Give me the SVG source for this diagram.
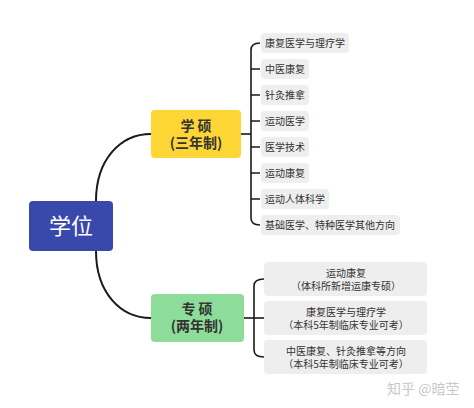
<svg xmlns="http://www.w3.org/2000/svg" width="474" height="408" viewBox="0 0 474 408">
<style>
text{font-family:"Noto Sans CJK SC","Noto Sans",sans-serif;}
.leaf{fill:#eeeeee;}
.lt{font-size:10px;fill:#333;}
.ct{font-size:10px;fill:#333;text-anchor:middle;}
.mid{font-size:14px;font-weight:bold;fill:#333;text-anchor:middle;}
.line{fill:none;stroke:#1a1a1a;stroke-width:2;}
.br{fill:none;stroke:#1a1a1a;stroke-width:1.6;}
</style>
<rect width="474" height="408" fill="#ffffff"/>
<g id="connectors">
<path class="line" d="M96,201 C96,160 120,134 151,134"/>
<path class="line" d="M96,251 C96,292 120,318 151,318"/>
<path class="br" d="M241,134 H251"/>
<path class="br" d="M260,43 Q251,43 251,50 V218 Q251,225 260,225"/>
<path class="br" d="M251,69 H260 M251,95 H260 M251,121 H260 M251,147 H260 M251,173 H260 M251,199 H260"/>
<path class="br" d="M244,318 H264"/>
<path class="br" d="M264,279 Q254,279 254,286 V350 Q254,357 264,357"/>
</g>
<g id="root">
<rect x="29" y="201" width="84" height="50" rx="4" fill="#3949ab"/>
<text x="71" y="234" font-size="22" fill="#ffffff" text-anchor="middle">学位</text>
</g>
<g id="xueshuo">
<rect x="151" y="110" width="90" height="48" rx="4" fill="#fdd535"/>
<text class="mid" x="196" y="131">学 硕</text>
<text class="mid" x="196" y="148">(三年制)</text>
</g>
<g id="zhuanshuo">
<rect x="151" y="294" width="93" height="48" rx="4" fill="#8edc99"/>
<text class="mid" x="197" y="314">专 硕</text>
<text class="mid" x="197" y="331">(两年制)</text>
</g>
<g id="leaf1"><rect class="leaf" x="261" y="33" width="88" height="20" rx="4"/><text class="lt" x="265" y="47">康复医学与理疗学</text></g>
<g id="leaf2"><rect class="leaf" x="261" y="59" width="48" height="20" rx="4"/><text class="lt" x="265" y="73">中医康复</text></g>
<g id="leaf3"><rect class="leaf" x="261" y="85" width="48" height="20" rx="4"/><text class="lt" x="265" y="99">针灸推拿</text></g>
<g id="leaf4"><rect class="leaf" x="261" y="111" width="48" height="20" rx="4"/><text class="lt" x="265" y="125">运动医学</text></g>
<g id="leaf5"><rect class="leaf" x="261" y="137" width="48" height="20" rx="4"/><text class="lt" x="265" y="151">医学技术</text></g>
<g id="leaf6"><rect class="leaf" x="261" y="163" width="48" height="20" rx="4"/><text class="lt" x="265" y="177">运动康复</text></g>
<g id="leaf7"><rect class="leaf" x="261" y="189" width="68" height="20" rx="4"/><text class="lt" x="265" y="203">运动人体科学</text></g>
<g id="leaf8"><rect class="leaf" x="261" y="215" width="139" height="20" rx="4"/><text class="lt" x="265" y="229">基础医学、特种医学其他方向</text></g>
<g id="pro1"><rect class="leaf" x="264" y="262" width="163" height="34" rx="4"/><text class="ct" x="346" y="277">运动康复</text><text class="ct" x="346" y="290">（体科所新增运康专硕）</text></g>
<g id="pro2"><rect class="leaf" x="264" y="301" width="163" height="34" rx="4"/><text class="ct" x="346" y="316">康复医学与理疗学</text><text class="ct" x="346" y="329">（本科5年制临床专业可考）</text></g>
<g id="pro3"><rect class="leaf" x="264" y="340" width="163" height="34" rx="4"/><text class="ct" x="346" y="355">中医康复、针灸推拿等方向</text><text class="ct" x="346" y="368">（本科5年制临床专业可考）</text></g>
<text x="387" y="394" font-size="14" fill="#c8c8c8">知乎 @暗茔</text>
</svg>
